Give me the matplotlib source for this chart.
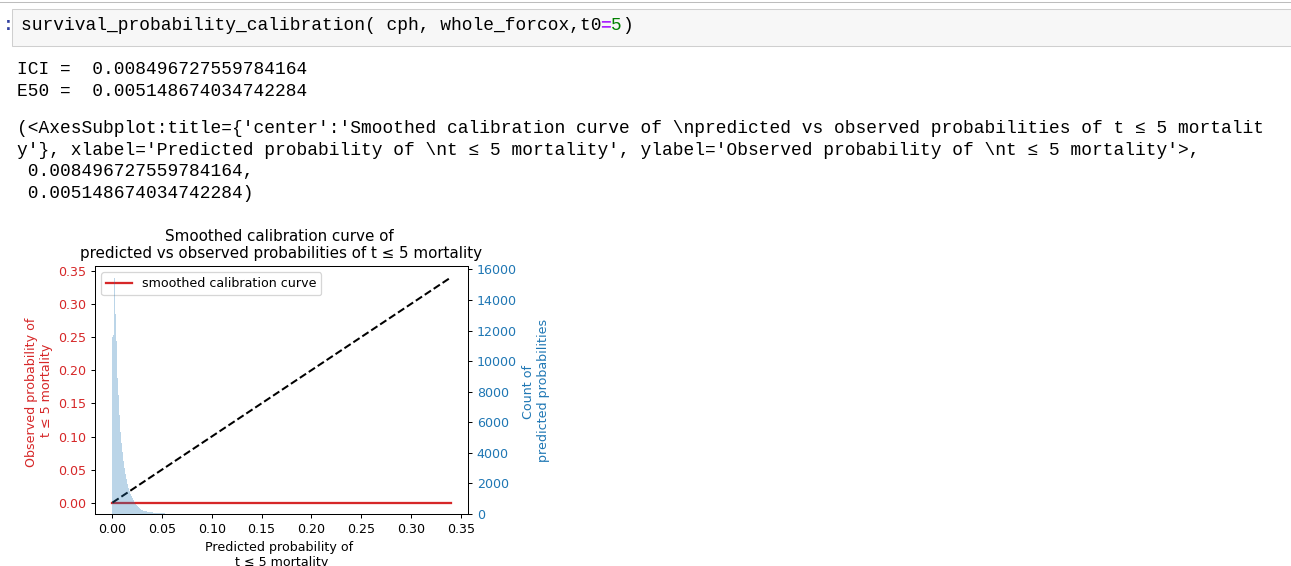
import numpy as np
import matplotlib
matplotlib.use('Agg')
from matplotlib import pyplot as plt
from matplotlib.patches import Rectangle
from matplotlib.lines import Line2D

W, H = 1291, 566
DPI = 91

# notebook text
code_parts = [('survival_probability_calibration( cph, whole_forcox,t0', 'black', 'normal'),
              ('=', '#aa22ff', 'bold'),
              ('5', '#008000', 'normal'),
              (')', 'black', 'normal')]
stdout_lines = ['ICI =  0.008496727559784164',
                'E50 =  0.005148674034742284']
result_lines = ["(<AxesSubplot:title={'center':'Smoothed calibration curve of \\npredicted vs observed probabilities of t ≤ 5 mortalit",
                "y'}, xlabel='Predicted probability of \\nt ≤ 5 mortality', ylabel='Observed probability of \\nt ≤ 5 mortality'>,",
                " 0.008496727559784164,",
                " 0.005148674034742284)"]

# calibration data
t0 = 5
curve_x = [0.0005, 0.034, 0.068, 0.102, 0.136, 0.170, 0.204, 0.238, 0.272, 0.306, 0.340]
curve_y = [0.0003, 0.0003, 0.0003, 0.0003, 0.0003, 0.0003, 0.0003, 0.0003, 0.0003, 0.0003, 0.0003]

hist_counts = [11600, 11700, 15450, 13050, 11300, 8900, 7800, 6500, 5380, 4650,
               4070, 3480, 3020, 2620, 2300, 1970, 1700, 1500, 1310, 1150,
               1020, 900, 780, 680, 590, 510, 440, 380, 330, 290,
               250, 220, 200, 180, 165, 150, 140, 130, 120, 110,
               100, 95, 90, 85, 80, 75, 70, 65, 60, 55,
               50, 45, 40, 30, 25, 20, 15, 12, 10, 8]

MONO = ['Liberation Mono', 'DejaVu Sans Mono']
CHAR_W = 10.73
MONO_SIZE = 17.88 * 72 / DPI


def fx(x):
    return x / W


def fy(y):
    return 1 - y / H


fig = plt.figure(figsize=(W / DPI, H / DPI), dpi=DPI)

# cell chrome
fig.add_artist(Line2D([0, 1], [fy(1.5), fy(1.5)], color='#bdbdbd', lw=0.8))
fig.add_artist(Rectangle((fx(12), fy(46)), fx(1300) - fx(12), fy(9.5) - fy(46),
                         facecolor='#f7f7f7', edgecolor='#cfcfcf', lw=0.8))
fig.text(fx(3), fy(30), ':', color='#303f9f', fontsize=MONO_SIZE, family=MONO,
         fontweight='bold', va='baseline')

col = 0
for txt, c, wt in code_parts:
    fig.text(fx(20.7 + col * CHAR_W), fy(30), txt, color=c, fontweight=wt,
             fontsize=MONO_SIZE, family=MONO, va='baseline')
    col += len(txt)

for i, line in enumerate(stdout_lines):
    fig.text(fx(17), fy(74 + i * 22), line, fontsize=MONO_SIZE, family=MONO, va='baseline')

for i, line in enumerate(result_lines):
    fig.text(fx(17), fy(133 + i * 21.7), line, fontsize=MONO_SIZE, family=MONO, va='baseline')

# chart
ax = fig.add_axes([fx(95), fy(514), (468 - 95) / W, (514 - 266) / H])
color = 'tab:red'
ax.plot(curve_x, curve_y, label='smoothed calibration curve', color=color, lw=1.8)
ax.set_xlabel('Predicted probability of \nt ≤ %d mortality' % t0)
ax.set_ylabel('Observed probability of \nt ≤ %d mortality' % t0, color=color)
ax.tick_params(axis='y', labelcolor=color)
ax.plot(curve_x, curve_x, c='k', ls='--', lw=1.6)
ax.legend(loc='upper left')

ax2 = ax.twinx()
color = 'tab:blue'
edges = 0.0005 + 0.001 * np.arange(len(hist_counts) + 1)
centers = (edges[:-1] + edges[1:]) / 2
ax2.hist(centers, bins=edges, weights=hist_counts, color=color, alpha=0.3,
         histtype='stepfilled', lw=0)
ax2.set_ylabel('Count of \npredicted probabilities', color=color)
ax2.tick_params(axis='y', labelcolor=color)
ax2.set_xlim(-0.017, 0.357)
ax.set_title('Smoothed calibration curve of \npredicted vs observed probabilities of t ≤ %d mortality' % t0)

fig.savefig('out.png', dpi=DPI)
